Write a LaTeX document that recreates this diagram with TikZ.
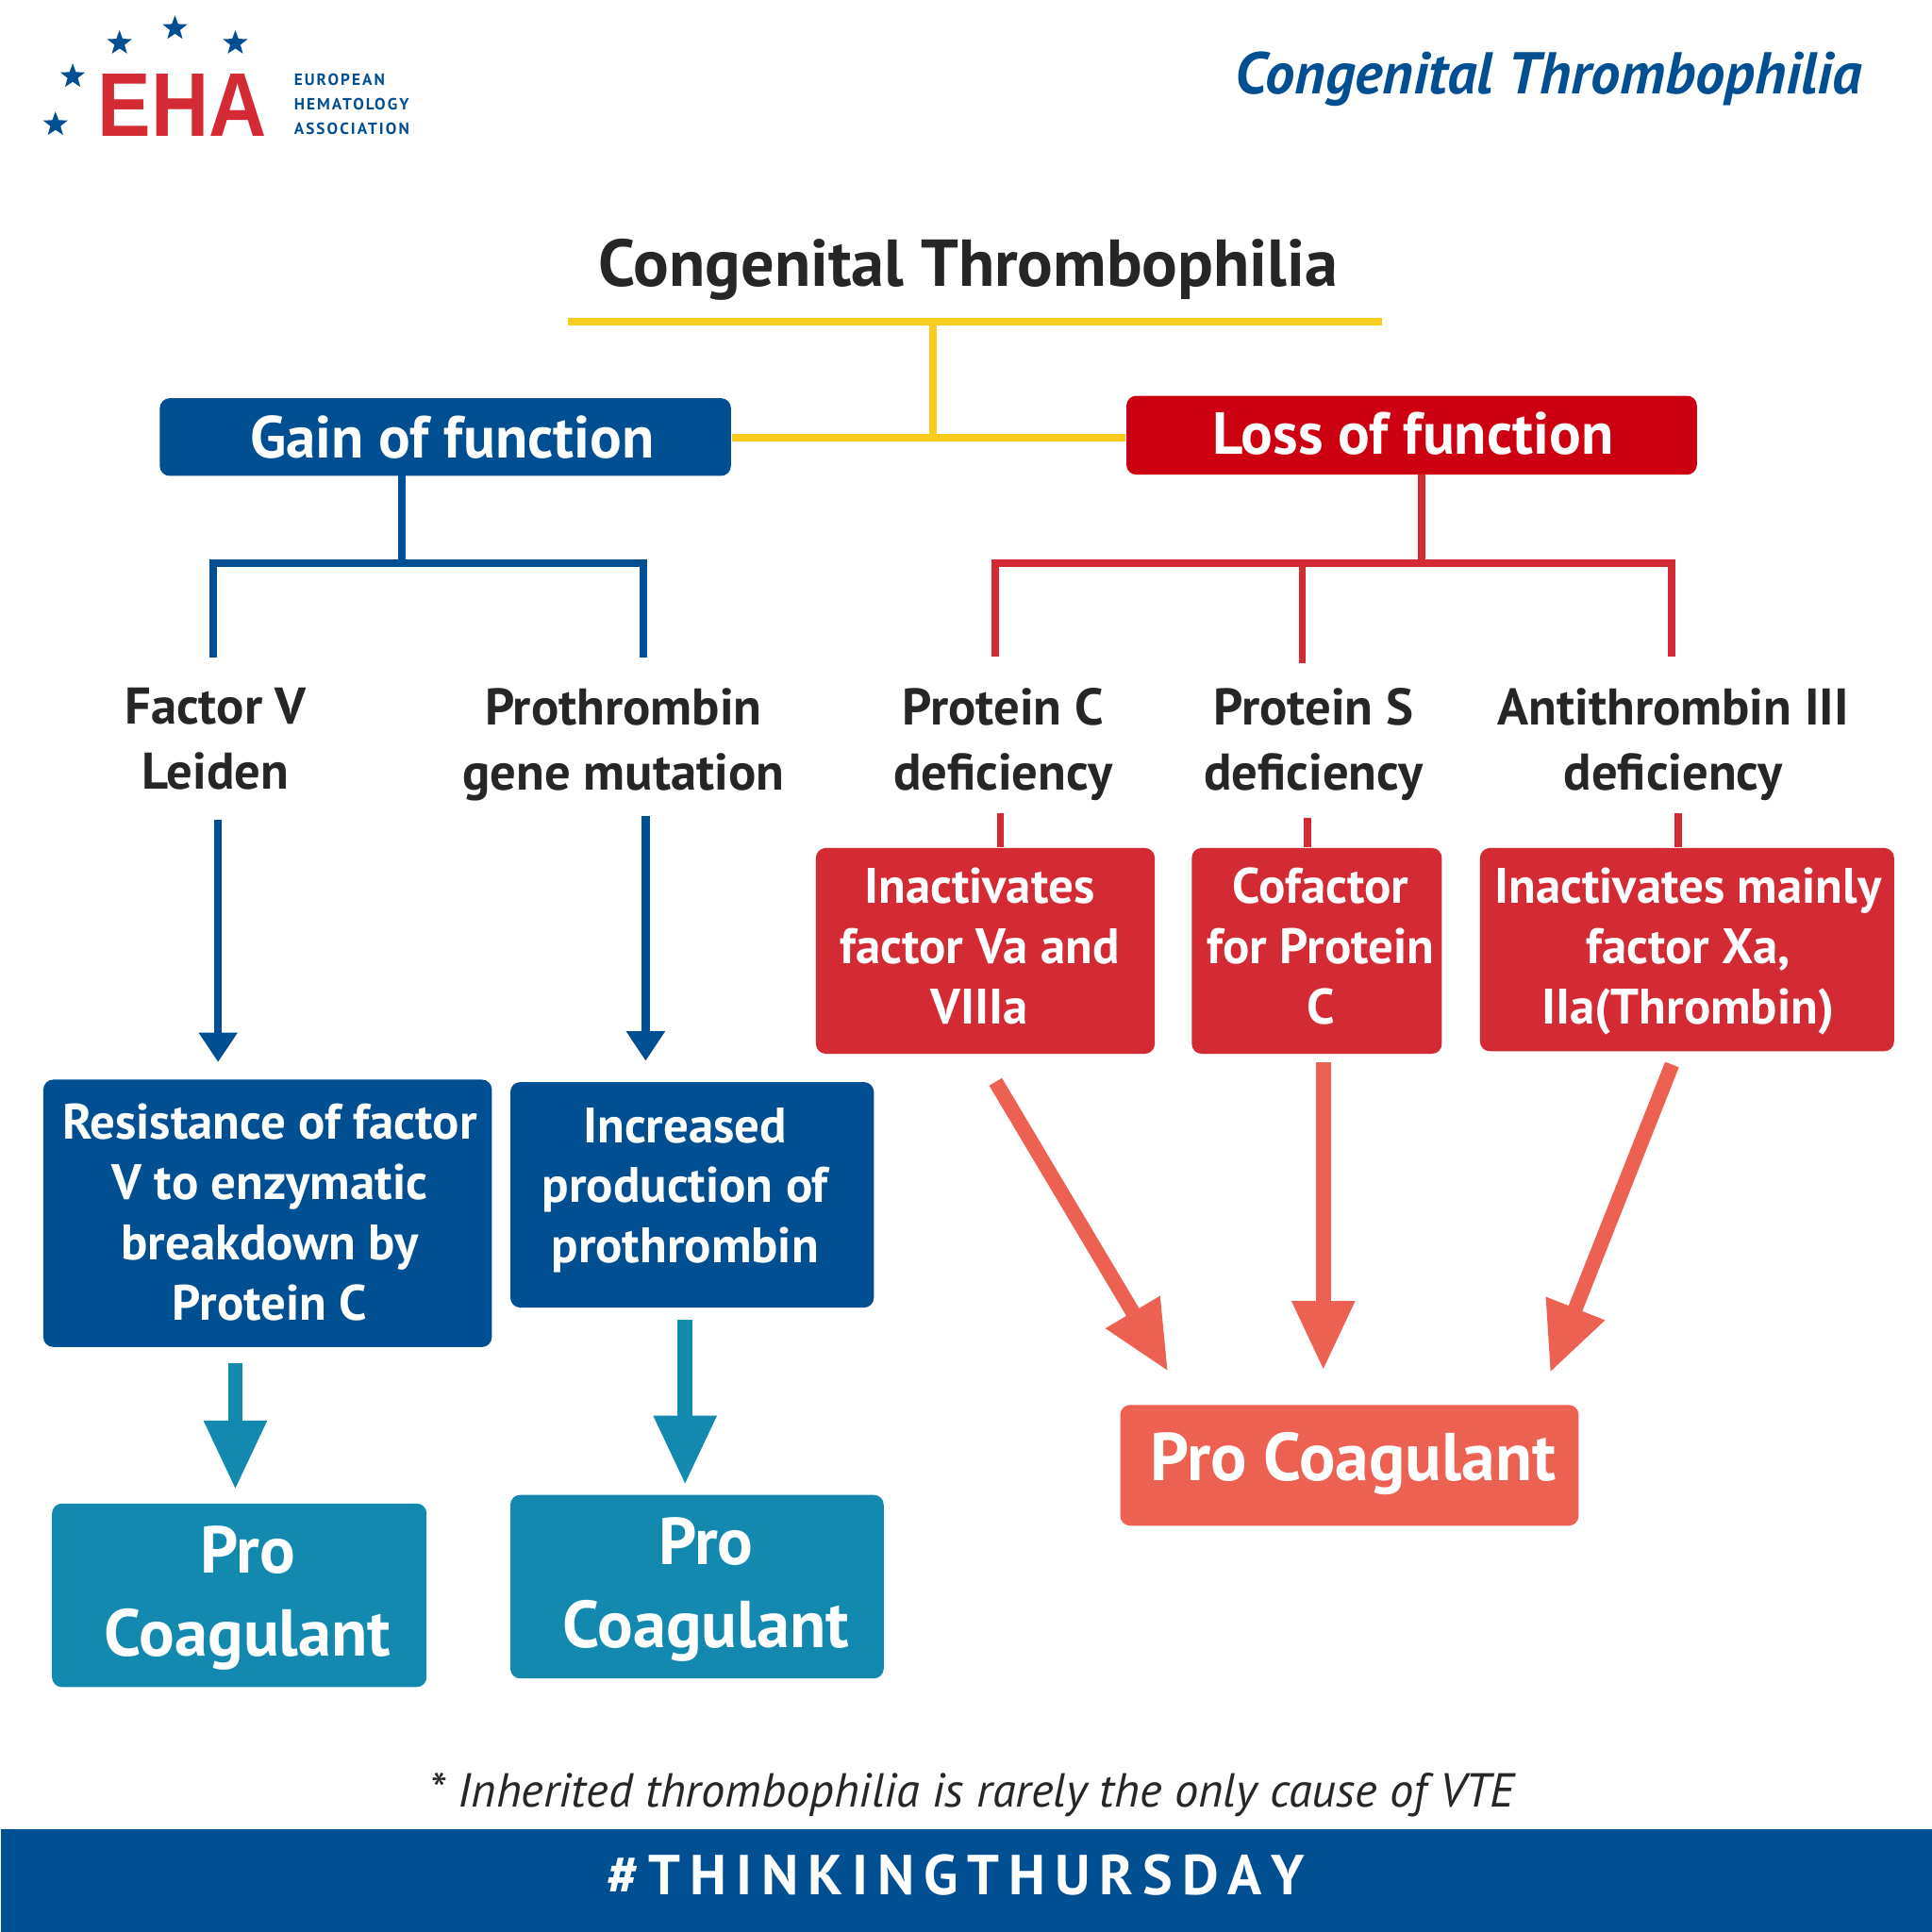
\documentclass[tikz,border=0pt]{standalone}
\usepackage{fontspec}
\setmainfont{PT Sans}
\newfontfamily\logofont{Liberation Sans}
\newfontfamily\logotxt[LetterSpace=12]{PT Sans}
\usetikzlibrary{arrows.meta,shapes.geometric}
\definecolor{ehablue}{HTML}{004F92}
\definecolor{ehared}{HTML}{D32A33}
\definecolor{lossred}{HTML}{CC0011}
\definecolor{tealc}{HTML}{1389B0}
\definecolor{salmon}{HTML}{EC6152}
\definecolor{gold}{HTML}{F8CB1C}
\definecolor{ink}{HTML}{262626}
\tikzset{
 x=0.01cm,y=-0.01cm,
 box/.style={rounded corners=0.08cm,inner sep=0},
 boxtext/.style={inner sep=0,text=white,font=\bfseries\fontsize{11.5}{13.9}\selectfont,align=center},
 protext/.style={inner sep=0,text=white,font=\bfseries\fontsize{15.3}{19.3}\selectfont,align=center},
 headtext/.style={inner sep=0,text=white,font=\bfseries\fontsize{13.7}{16}\selectfont},
 hd/.style={inner sep=0,text=ink,font=\bfseries\fontsize{11.9}{15}\selectfont,align=center},
 ln/.style={line width=0.06cm},
 fat/.style={line width=0.12cm,-{Triangle[length=0.56cm,width=0.48cm]}},
 slim/.style={ehablue,line width=0.065cm,-{Triangle[length=0.24cm,width=0.3cm]}},
 logostar/.style={star,star points=5,star point ratio=2.4,fill=ehablue,inner sep=0,minimum size=0.21cm},
}
\newcommand{\boxat}[6]{% name, colour, x0,y0,x1,y1
 \node[box,fill=#2,minimum width=#5*0.01cm-#3*0.01cm,minimum height=#6*0.01cm-#4*0.01cm,anchor=north west] (#1) at (#3,#4) {};}
\begin{document}
\begin{tikzpicture}
\useasboundingbox (0,0) rectangle (1568,1568);
\fill[white] (0,0) rectangle (1568,1568);
% footer
\node[fill=ehablue,minimum width=15.68cm,minimum height=0.84cm,inner sep=0,anchor=north west] (footer) at (0,1484) {};
\node[text=white,font=\fontsize{13}{16}\selectfont\bfseries,inner sep=0] (tag) at (776,1522) {\#\,T\,H\,I\,N\,K\,I\,N\,G\,T\,H\,U\,R\,S\,D\,A\,Y};
% logo
\foreach \n/\a/\b in {s1/142/23,s2/97/35,s3/191/35,s4/59/62,s5/45/101}
 \node[logostar] (\n) at (\a,\b) {};
\node[text=ehared,font=\logofont\bfseries,inner sep=0,anchor=west] (eha) at (78.5,85) {\resizebox{1.37cm}{0.505cm}{EHA}};
\node[text=ehablue,font=\logotxt\bfseries\fontsize{3.75}{5.67}\selectfont,align=left,inner sep=0,anchor=west] (ehatxt) at (238,84.5) {EUROPEAN\\HEMATOLOGY\\ASSOCIATION};
\node[text=ehablue,font=\bfseries\itshape\fontsize{13.6}{15}\selectfont,inner sep=0] (corner) at (1257,64) {Congenital Thrombophilia};
\node[hd,font=\bfseries\fontsize{15.3}{19}\selectfont] (title) at (786,219) {Congenital Thrombophilia};
% trunk
\coordinate (tl) at (461,261); \coordinate (tr) at (1122,261); \coordinate (tm) at (757,261); \coordinate (tj) at (757,355);
\draw[gold,ln] (tl)--(tr);
\draw[gold,ln] (tm)--(tj);
% top boxes
\boxat{gain}{ehablue}{129}{322.5}{592.5}{385.5}
\boxat{loss}{lossred}{913.5}{320.5}{1376.5}{384.5}
\draw[gold,ln] (gain.east |- tj) -- (loss.west |- tj);
\node[headtext] (gaint) at (367,355) {Gain of function};
\node[headtext] (losst) at (1147,352) {Loss of function};
% blue tree
\coordinate (g0) at (326,386); \coordinate (g1) at (326,457);
\coordinate (ga) at (173,457); \coordinate (gb) at (522,457); \coordinate (ga2) at (173,534); \coordinate (gb2) at (522,534);
\draw[ehablue,ln] (g0)--(g1);
\draw[ehablue,ln,line join=miter] (ga2)--(ga)--(gb)--(gb2);
% red tree
\coordinate (r0) at (1154,385); \coordinate (r1) at (1154,457);
\coordinate (ra) at (808,457); \coordinate (rb) at (1357,457); \coordinate (ra2) at (808,533); \coordinate (rb2) at (1357,533);
\coordinate (rc) at (1057,457); \coordinate (rc2) at (1057,538);
\draw[ehared,ln] (r0)--(r1);
\draw[ehared,ln,line join=miter] (ra2)--(ra)--(rb)--(rb2);
\draw[ehared,ln] (rc)--(rc2);
% labels
\node[hd] (fvl) at (175,600) {Factor V\\Leiden};
\node[hd] (pgm) at (506,604) {Prothrombin\\gene mutation};
\node[hd] (pc) at (814,604) {Protein C\\deficiency};
\node[hd] (ps) at (1066,604) {Protein S\\deficiency};
\node[hd] (at) at (1358,604) {Antithrombin III\\deficiency};
% red boxes
\coordinate (l1) at (812,660); \coordinate (l2) at (1061,664); \coordinate (l3) at (1362,660);
\boxat{ina}{ehared}{661.5}{687.5}{936.5}{854.5}
\boxat{cof}{ehared}{966.5}{687.5}{1169.5}{854.5}
\boxat{inb}{ehared}{1200.5}{687.5}{1536.5}{852.5}
\draw[ehared,ln] (l1)--(l1 |- ina.north);
\draw[ehared,ln] (l2)--(l2 |- cof.north);
\draw[ehared,ln] (l3)--(l3 |- inb.north);
\node[boxtext] (inat) at (795,768) {Inactivates\\factor Va and\\VIIIa};
\node[boxtext] (coft) at (1072,768) {Cofactor\\for Protein\\C};
\node[boxtext] (inbt) at (1370,772) {Inactivates mainly\\factor Xa,\\IIa(Thrombin)};
% blue boxes
\boxat{res}{ehablue}{34.5}{875.5}{398.5}{1092.5}
\boxat{inc}{ehablue}{413.5}{877.5}{708.5}{1060.5}
\node[boxtext] (rest) at (219,984) {Resistance of factor\\V to enzymatic\\breakdown by\\Protein C};
\node[boxtext] (inct) at (556,966) {Increased\\production of\\prothrombin};
\coordinate (a1) at (177,665); \coordinate (a1e) at (177,862);
\coordinate (a2) at (524,662); \coordinate (a2e) at (524,861);
\draw[slim] (a1)--(a1e);
\draw[slim] (a2)--(a2e);
% teal
\boxat{pa}{tealc}{41.5}{1219.5}{345.5}{1368.5}
\boxat{pb}{tealc}{413.5}{1212.5}{716.5}{1361.5}
\node[protext] (pat) at (201,1297) {Pro\hspace{6.8pt}\\Coagulant};
\node[protext] (pbt) at (573,1290) {Pro\hspace{6.8pt}\\Coagulant};
\coordinate (b1) at (191,1106); \coordinate (b1e) at (191,1209);
\coordinate (b2) at (556,1071); \coordinate (b2e) at (556,1205);
\draw[tealc,fat] (b1)--(b1e);
\draw[tealc,fat] (b2)--(b2e);
% salmon
\boxat{pc2}{salmon}{908.5}{1139.5}{1280.5}{1237.5}
\node[protext,font=\bfseries\fontsize{15.6}{19}\selectfont] (pct) at (1098,1188) {Pro Coagulant};
\coordinate (c1) at (808,878); \coordinate (c1e) at (948,1113);
\coordinate (c2) at (1074,862); \coordinate (c2e) at (1074,1112);
\coordinate (c3) at (1357,864); \coordinate (c3e) at (1258,1114);
\draw[salmon,fat] (c1)--(c1e);
\draw[salmon,fat] (c2)--(c2e);
\draw[salmon,fat] (c3)--(c3e);
% note
\node[inner sep=0,text=ink,font=\itshape\fontsize{11}{13}\selectfont] (note) at (789,1457) {* Inherited thrombophilia is rarely the only cause of VTE};
\end{tikzpicture}
\end{document}
